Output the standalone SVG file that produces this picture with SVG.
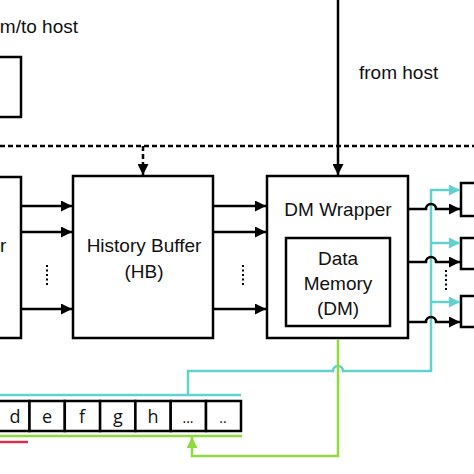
<svg xmlns="http://www.w3.org/2000/svg" width="474" height="474" viewBox="0 0 474 474">
<defs>
<style>
.box{fill:#fff;stroke:#000;stroke-width:2.5}
.cell{fill:#fff;stroke:#000;stroke-width:2.5}
.w{fill:none;stroke:#000;stroke-width:2.5}
.d{fill:none;stroke:#000;stroke-width:2.5;stroke-dasharray:5 3}
.teal{fill:none;stroke:#62d2cc;stroke-width:2.5}
.green{fill:none;stroke:#8edb3e;stroke-width:2.5}
.red{fill:none;stroke:#d2334f;stroke-width:2.5}
.t{font-family:"Liberation Sans",Arial,sans-serif;font-size:19px;fill:#111}
.c{font-family:"Open Sans","Noto Sans",sans-serif;font-size:18px;fill:#111;text-anchor:middle}
.dots{fill:none;stroke:#000;stroke-width:2;stroke-dasharray:2 2.5}
</style>
<marker id="ab" viewBox="0 0 10 10" refX="10" refY="5" markerWidth="4.4" markerHeight="4.4" orient="auto" markerUnits="strokeWidth"><path d="M0,0L10,5L0,10z" fill="#000"/></marker>
<marker id="at" viewBox="0 0 10 10" refX="10" refY="5" markerWidth="4.4" markerHeight="4.4" orient="auto" markerUnits="strokeWidth"><path d="M0,0L10,5L0,10z" fill="#62d2cc"/></marker>
<marker id="ag" viewBox="0 0 10 10" refX="10" refY="5" markerWidth="4.4" markerHeight="4.4" orient="auto" markerUnits="strokeWidth"><path d="M0,0L10,5L0,10z" fill="#8edb3e"/></marker>
</defs>
<rect width="474" height="474" fill="#fff"/>

<text class="t" x="78" y="33" text-anchor="end">m/to host</text>
<text class="t" x="359" y="79">from host</text>

<g id="host-box"><rect class="box" x="-5" y="57" width="26" height="60"/></g>
<g id="left-buffer"><rect class="box" x="-5" y="177" width="26" height="161"/><text class="t" x="0" y="252">r</text></g>
<g id="history-buffer"><rect class="box" x="73" y="176" width="140" height="162"/>
<text class="t" x="144" y="252" text-anchor="middle">History Buffer</text>
<text class="t" x="144" y="278" text-anchor="middle">(HB)</text></g>
<g id="dm-wrapper"><rect class="box" x="267" y="176" width="141" height="162"/>
<text class="t" x="338" y="216" text-anchor="middle">DM Wrapper</text></g>
<g id="data-memory"><rect class="box" x="286" y="238" width="104" height="88"/>
<text class="t" x="338" y="265" text-anchor="middle">Data</text>
<text class="t" x="338" y="290" text-anchor="middle">Memory</text>
<text class="t" x="338" y="315" text-anchor="middle">(DM)</text></g>
<g id="out1"><rect class="box" x="461" y="183" width="20" height="33"/></g>
<g id="out2"><rect class="box" x="461" y="238" width="20" height="31"/></g>
<g id="out3"><rect class="box" x="461" y="296" width="20" height="31"/></g>

<g id="cells">
<rect class="cell" x="-5" y="401" width="34.5" height="30"/>
<rect class="cell" x="29.5" y="401" width="35.3" height="30"/>
<rect class="cell" x="64.8" y="401" width="35.3" height="30"/>
<rect class="cell" x="100.1" y="401" width="35.3" height="30"/>
<rect class="cell" x="135.4" y="401" width="35.3" height="30"/>
<rect class="cell" x="170.7" y="401" width="35.3" height="30"/>
<rect class="cell" x="206" y="401" width="35" height="30"/>
<text class="c" x="15" y="423">d</text>
<text class="c" x="47" y="423">e</text>
<text class="c" x="82" y="423">f</text>
<text class="c" x="118" y="423">g</text>
<text class="c" x="153" y="423">h</text>
<text class="c" x="188" y="423" style="font-size:14px">...</text>
<text class="c" x="223" y="423" style="font-size:14px">..</text>
</g>

<g id="connectors">
<path class="d" d="M0,146H474"/>
<path class="d" d="M143,146V175" marker-end="url(#ab)"/>
<path class="w" d="M338,0V175" marker-end="url(#ab)"/>
<path class="w" d="M21,206H72" marker-end="url(#ab)"/>
<path class="w" d="M21,232H72" marker-end="url(#ab)"/>
<path class="w" d="M21,309H72" marker-end="url(#ab)"/>
<path class="dots" d="M47,265V285"/>
<path class="w" d="M214,206H266" marker-end="url(#ab)"/>
<path class="w" d="M214,232H266" marker-end="url(#ab)"/>
<path class="w" d="M214,309H266" marker-end="url(#ab)"/>
<path class="dots" d="M243,265V285"/>
<path class="teal" d="M431,189V371H343a5,5 0 0 0 -10,0H188V395"/>
<path class="teal" d="M0,395H241"/>
<path class="teal" d="M431,190H460" marker-end="url(#at)"/>
<path class="teal" d="M431,243H460" marker-end="url(#at)"/>
<path class="teal" d="M431,302H460" marker-end="url(#at)"/>
<path class="w" d="M409,209H426a5,5 0 0 1 10,0H460" marker-end="url(#ab)"/>
<path class="w" d="M409,262H426a5,5 0 0 1 10,0H460" marker-end="url(#ab)"/>
<path class="w" d="M409,322H426a5,5 0 0 1 10,0H460" marker-end="url(#ab)"/>
<path class="dots" d="M446,270V290"/>
<path class="green" d="M338,339V456H192V437" marker-end="url(#ag)"/>
<path class="green" d="M0,436H242"/>
<path class="red" d="M0,442H28"/>
</g>
</svg>
